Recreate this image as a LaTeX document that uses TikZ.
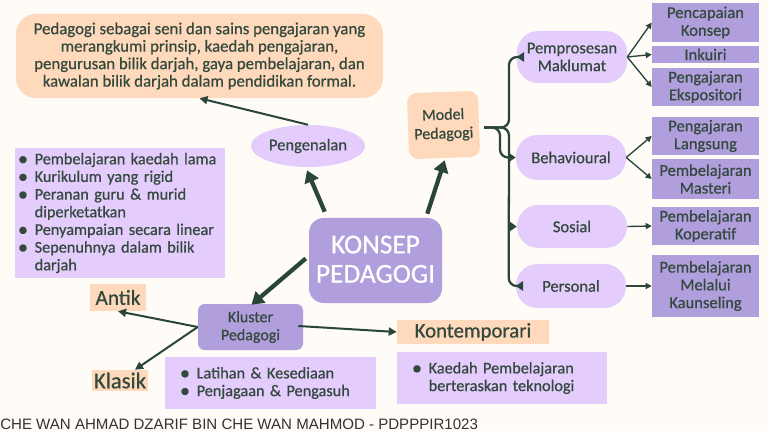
\documentclass[tikz,border=0pt]{standalone}
\usepackage{fontspec}
\usetikzlibrary{arrows.meta,calc,shapes.geometric}
\setmainfont{Carlito}[RawFeature={embolden=0.6}]
\newfontfamily\footfont{Liberation Sans}
\def\pxu{0.75pt}
\definecolor{bgc}{HTML}{FFFBF7}
\definecolor{peach}{HTML}{FFD9BB}
\definecolor{lilac}{HTML}{E4CCFD}
\definecolor{midlil}{HTML}{B09FDC}
\definecolor{ink}{HTML}{2A4539}
\definecolor{txt}{HTML}{34493E}
\newcommand{\fs}[2]{\fontsize{#1}{#2}\selectfont}
\newcommand{\blt}{\makebox[12.5pt][l]{\smash{\raisebox{-0.8pt}{\fontsize{15}{13}\selectfont\textbullet}}}}
\newcommand{\ind}{\hspace*{12.5pt}}
\tikzset{
  x=0.75pt,y=-0.75pt,
  sz/.style n args={2}{minimum width=#1*\pxu,minimum height=#2*\pxu},
  base/.style={inner sep=0pt,text=txt,align=center,font=\fs{12.4}{13.3}},
  peachbox/.style={base,fill=peach},
  lilbox/.style={base,fill=lilac},
  midbox/.style={base,fill=midlil},
  pill/.style={lilbox,rounded corners=16pt},
  listbox/.style={lilbox,align=left,font=\fs{12.2}{13.25}},
  thin arrow/.style={draw=ink,line width=1pt,-{Triangle[length=4.5pt,width=4.5pt]}},
  mid arrow/.style={draw=ink,line width=1.5pt,-{Triangle[length=6pt,width=6pt]}},
  fat arrow/.style={draw=ink,line width=3.2pt,-{Triangle[length=9pt,width=11pt]}},
  brace/.style={draw=ink,line width=1.7pt,rounded corners=6pt},
  brace tip/.style={-{Triangle[length=5.5pt,width=7pt]}}
}
\begin{document}
\begin{tikzpicture}
\useasboundingbox[fill=bgc] (0,0) rectangle (768,431);

\node[peachbox,sz={367}{84},rounded corners=15pt,font=\fs{12.6}{13.1}] (defn) at (199.5,56)
  {\raisebox{1pt}{Pedagogi sebagai seni dan sains pengajaran yang}\\\raisebox{1pt}{merangkumi prinsip, kaedah pengajaran,}\\\raisebox{1pt}{pengurusan bilik darjah, gaya pembelajaran, dan}\\\raisebox{1pt}{kawalan bilik darjah dalam pendidikan formal.}};
\node[ellipse,lilbox,sz={114}{42}] (intro) at (308,146) {Pengenalan};
\node[listbox,sz={210}{130},text width=204*\pxu] (oldlist) at (120,213)
  {\blt Pembelajaran kaedah lama\\
   \blt Kurikulum yang rigid\\
   \blt Peranan guru \& murid\\
   \ind diperketatkan\\
   \blt Penyampaian secara linear\\
   \blt Sepenuhnya dalam bilik\\
   \ind darjah};
\node[peachbox,sz={71}{66},rounded corners=7pt,rotate=2,font=\fs{12}{14}] (model) at (443.5,125) {Model\\Pedagogi};
\node[midbox,sz={133}{85},rounded corners=11pt,text=white,font=\fs{20.5}{22}] (konsep) at (375.5,260.5) {\raisebox{2pt}{KONSEP}\\\raisebox{2pt}{PEDAGOGI}};
\node[midbox,sz={105}{46},rounded corners=5pt,font=\fs{12}{13.5}] (kluster) at (250.5,327) {Kluster\\Pedagogi};
\node[peachbox,sz={56}{27},font=\fs{16}{18}] (antik) at (118,297.5) {Antik};
\node[peachbox,sz={56}{21},font=\fs{17}{18}] (klasik) at (120,380.5) {Klasik};
\node[listbox,sz={211}{52},text width=181*\pxu] (latihan) at (270.5,383)
  {\blt Latihan \& Kesediaan\\\blt Penjagaan \& Pengasuh};
\node[peachbox,sz={152}{24},font=\fs{15.6}{17}] (kontemp) at (473,332) {Kontemporari};
\node[listbox,sz={210}{52},text width=180*\pxu] (kaedah) at (502,378)
  {\blt Kaedah Pembelajaran\\\ind berteraskan teknologi};

\node[pill,sz={110}{52}] (proses) at (572,57) {Pemprosesan\\Maklumat};
\node[pill,sz={110}{45}] (behav) at (571,157.5) {Behavioural};
\node[pill,sz={110}{43}] (sosial) at (572,226.5) {Sosial};
\node[pill,sz={110}{44}] (personal) at (571,286) {Personal};

\node[midbox,sz={107}{39}] (konsepb) at (705.5,22.5) {Pencapaian\\Konsep};
\node[midbox,sz={107}{17}] (inkuiri) at (705.5,54.5) {Inkuiri};
\node[midbox,sz={107}{38}] (ekspo) at (705.5,87) {Pengajaran\\Ekspositori};
\node[midbox,sz={107}{38}] (langsung) at (705.5,136) {Pengajaran\\Langsung};
\node[midbox,sz={107}{40}] (masteri) at (705.5,179) {Pembelajaran\\Masteri};
\node[midbox,sz={107}{38}] (koperatif) at (705.5,226) {Pembelajaran\\Koperatif};
\node[midbox,sz={107}{62}] (kaunsel) at (705.5,286) {Pembelajaran\\Melalui\\Kaunseling};

\node[anchor=west,inner sep=0pt,text=black!80,font=\footfont\fs{11.3}{13}] (footer) at (0,424) {CHE WAN AHMAD DZARIF BIN CHE WAN MAHMOD - PDPPPIR1023};

% arrows
\draw[mid arrow] (intro.north) -- (defn.south);
\draw[fat arrow] ($(konsep.north west)+(16,-6)$) -- ($(intro.south)+(-1,3)$);
\draw[fat arrow] ($(konsep.north east)+(-15,-4)$) -- ($(model.south)+(0,2)$);
\draw[fat arrow] ($(konsep.west)+(-3,-2)$) -- ($(kluster.north)+(1,1)$);
\draw[mid arrow] (kluster.west) -- (antik.south);
\draw[mid arrow] (kluster.west) -- ($(klasik.north)+(15,0)$);
\draw[mid arrow] ($(kluster.east)+(-5,-1)$) -- (kontemp.west);

% brace
\coordinate (bj) at (484,127.5);
\draw[brace,brace tip] (bj) -- ++(25,0) |- (proses.west);
\draw[brace,brace tip] (bj) -- ++(16,0) |- (behav.west);
\draw[brace] (bj) -- ++(25,0) -- ($(personal.west)+(-7,-8)$);
\draw[brace,brace tip] ($(personal.west)+(-7,-8)$) |- (personal.west);
\draw[draw=ink,line width=1.7pt,-{Triangle[length=6pt,width=8pt]}] ($(sosial.west)+(-9,0)$) -- (sosial.west);

% right arrows
\foreach \a/\b in {proses/konsepb,proses/inkuiri,proses/ekspo,behav/langsung,behav/masteri}
  \draw[thin arrow] (\a.east) -- (\b.west);
\draw[thin arrow] (sosial.east) -- (koperatif.west);
\draw[thin arrow] (personal.east) -- (kaunsel.west);
\end{tikzpicture}
\end{document}
